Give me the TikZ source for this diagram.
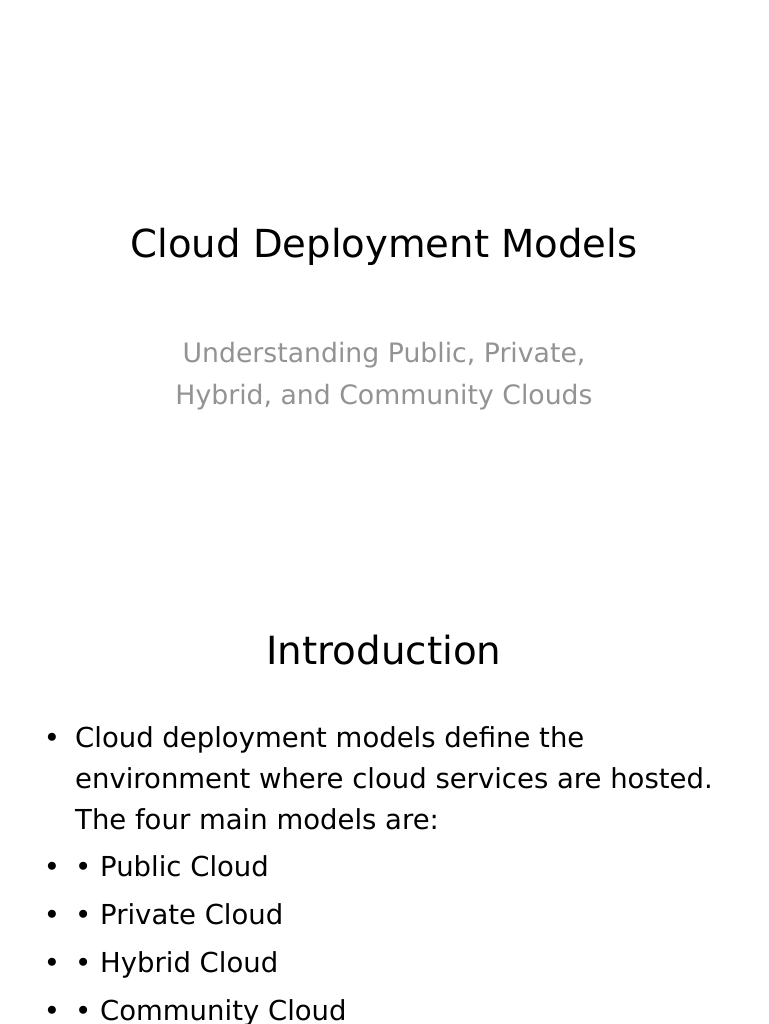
\documentclass[tikz,border=0pt]{standalone}
\usepackage{fontspec}
\setmainfont{DejaVu Sans}
\begin{document}
\begin{tikzpicture}[x=1pt,y=-1pt,
  ttl/.style={anchor=base,inner sep=0pt,font=\fontsize{38.6}{45}\selectfont},
  sub/.style={anchor=base,inner sep=0pt,text=gray!85,font=\fontsize{26.7}{31}\selectfont},
  itm/.style={anchor=base west,inner sep=0pt,font=\fontsize{27.5}{32}\selectfont},
  dot/.style={anchor=base,inner sep=0pt,font=\fontsize{27.5}{32}\selectfont}]
\useasboundingbox (0,0) rectangle (768,1024);
\fill[white] (0,0) rectangle (768,1024);
\node[ttl] (t1) at (384,257) {Cloud Deployment Models};
\node[sub] (s1) at (384,362) {Understanding Public, Private,};
\node[sub] (s2) at (384,404) {Hybrid, and Community Clouds};
\node[ttl,font=\fontsize{38.8}{45}\selectfont] (t2) at (384,664) {Introduction};
\foreach \y/\t [count=\i] in {747/Cloud deployment models define the,788/environment where cloud services are hosted.,829/The four main models are:,876/• Public Cloud,924/• Private Cloud,972/• Hybrid Cloud,1020/• Community Cloud}
  {\node[itm] (l\i) at (75,\y) {\t};}
\foreach \y [count=\i] in {747,876,924,972,1020}
  {\node[dot] (d\i) at (52,\y) {•};}
\end{tikzpicture}
\end{document}
